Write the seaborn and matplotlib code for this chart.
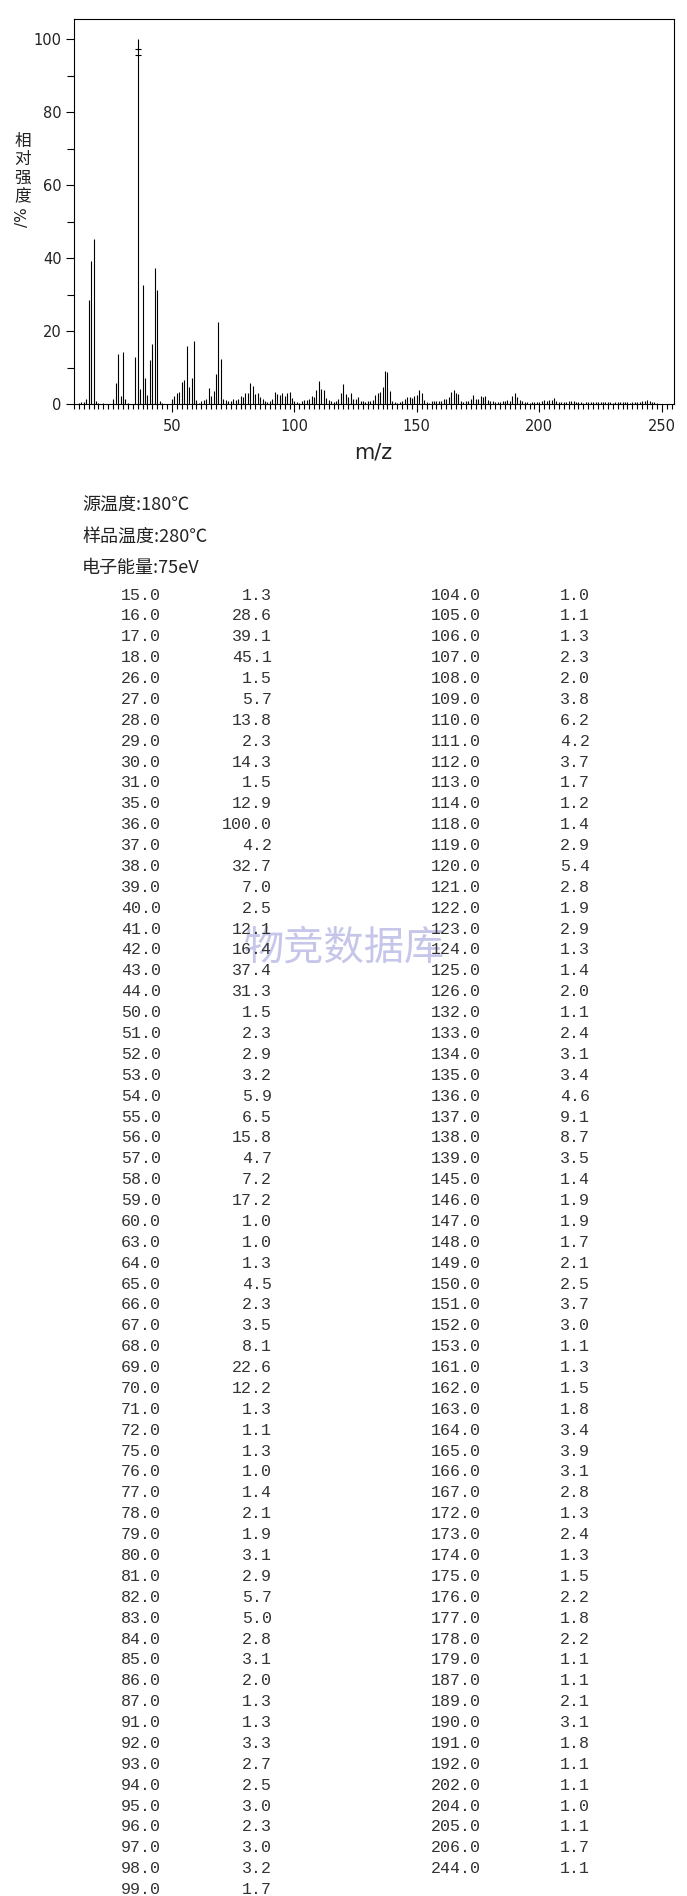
import numpy as np
import pandas as pd
import matplotlib
matplotlib.use("Agg")
import matplotlib.pyplot as plt
import seaborn as sns

# ---------------------------------------------------------------------------
# Data: peaks listed in the table (m/z, relative intensity %)
# ---------------------------------------------------------------------------
table_mz = [15, 16, 17, 18, 26, 27, 28, 29, 30, 31, 35, 36, 37, 38, 39, 40, 41, 42, 43, 44,
            50, 51, 52, 53, 54, 55, 56, 57, 58, 59, 60, 63, 64, 65, 66, 67, 68, 69, 70, 71,
            72, 75, 76, 77, 78, 79, 80, 81, 82, 83, 84, 85, 86, 87, 91, 92, 93, 94, 95, 96,
            97, 98, 99,
            104, 105, 106, 107, 108, 109, 110, 111, 112, 113, 114, 118, 119, 120, 121, 122,
            123, 124, 125, 126, 132, 133, 134, 135, 136, 137, 138, 139, 145, 146, 147, 148,
            149, 150, 151, 152, 153, 161, 162, 163, 164, 165, 166, 167, 172, 173, 174, 175,
            176, 177, 178, 179, 187, 189, 190, 191, 192, 202, 204, 205, 206, 244]
table_int = [1.3, 28.6, 39.1, 45.1, 1.5, 5.7, 13.8, 2.3, 14.3, 1.5, 12.9, 100.0, 4.2, 32.7,
             7.0, 2.5, 12.1, 16.4, 37.4, 31.3,
             1.5, 2.3, 2.9, 3.2, 5.9, 6.5, 15.8, 4.7, 7.2, 17.2, 1.0, 1.0, 1.3, 4.5, 2.3, 3.5,
             8.1, 22.6, 12.2, 1.3,
             1.1, 1.3, 1.0, 1.4, 2.1, 1.9, 3.1, 2.9, 5.7, 5.0, 2.8, 3.1, 2.0, 1.3, 1.3, 3.3,
             2.7, 2.5, 3.0, 2.3,
             3.0, 3.2, 1.7,
             1.0, 1.1, 1.3, 2.3, 2.0, 3.8, 6.2, 4.2, 3.7, 1.7, 1.2, 1.4, 2.9, 5.4, 2.8, 1.9,
             2.9, 1.3, 1.4, 2.0, 1.1, 2.4, 3.1, 3.4, 4.6, 9.1, 8.7, 3.5, 1.4, 1.9, 1.9, 1.7,
             2.1, 2.5, 3.7, 3.0, 1.1, 1.3, 1.5, 1.8, 3.4, 3.9, 3.1, 2.8, 1.3, 2.4, 1.3, 1.5,
             2.2, 1.8, 2.2, 1.1, 1.1, 2.1, 3.1, 1.8, 1.1, 1.1, 1.0, 1.1, 1.7, 1.1]

# weak peaks (< 1 %) only visible on the plot, heights estimated
minor_mz = [12, 13, 14, 19, 20, 22, 32, 45, 46, 61, 62, 73, 74, 88, 89, 90,
            100, 101, 102, 103, 115, 116, 117, 127, 128, 129, 130, 131,
            140, 141, 142, 143, 144, 154, 155, 156, 157, 158, 159, 160,
            168, 169, 170, 171, 180, 181, 182, 183, 184, 185, 186, 188,
            193, 194, 195, 196, 197, 198, 199, 200, 201, 203,
            207, 208, 209, 210, 211, 212, 213, 214, 215, 216, 217, 218, 219, 220,
            221, 222, 223, 224, 225, 226, 227, 228, 229, 230, 231, 232, 233, 234,
            235, 236, 237, 238, 239, 240, 241, 242, 243, 245, 246, 247, 248]
minor_int = [0.4, 0.5, 0.5, 0.7, 0.4, 0.3, 0.4, 0.8, 0.4, 0.4, 0.7, 0.9, 0.8, 0.7, 0.5, 0.7,
             0.7, 0.6, 0.4, 0.9, 0.7, 0.6, 0.7, 0.9, 0.7, 0.6, 0.7, 0.9,
             0.9, 0.5, 0.4, 0.5, 0.9, 0.5, 0.4, 0.9, 0.7, 0.9, 0.9, 0.9,
             0.7, 0.5, 0.7, 0.9, 0.9, 0.7, 0.6, 0.6, 0.6, 0.7, 0.9, 0.8,
             0.8, 0.6, 0.5, 0.4, 0.6, 0.5, 0.6, 0.6, 0.7, 0.8,
             0.7, 0.6, 0.6, 0.6, 0.6, 0.7, 0.7, 0.7, 0.6, 0.5, 0.5, 0.4, 0.5, 0.5,
             0.6, 0.6, 0.6, 0.6, 0.6, 0.6, 0.5, 0.6, 0.5, 0.4, 0.5, 0.6, 0.6, 0.6,
             0.5, 0.5, 0.4, 0.5, 0.5, 0.6, 0.6, 0.7, 0.8, 0.8, 0.6, 0.5, 0.4]

conditions = ["源温度:180℃", "样品温度:280℃", "电子能量:75eV"]
y_label_chars = ["相", "对", "强", "度"]
watermark = "物竞数据库"

peaks = pd.DataFrame({"mz": table_mz + minor_mz, "intensity": table_int + minor_int})

# ---------------------------------------------------------------------------
# Figure
# ---------------------------------------------------------------------------
sns.set_theme(style="ticks")
plt.rcParams["font.family"] = ["DejaVu Sans", "Noto Sans CJK SC"]
CJK = ["Noto Sans CJK SC", "DejaVu Sans"]

W, H = 687, 1896
fig = plt.figure(figsize=(W / 100, H / 100), dpi=100)
fig.patch.set_facecolor("white")


def fx(px):
    return px / W


def fy(py):
    return 1 - py / H


ax = fig.add_axes([fx(74), fy(404), fx(600), (404 - 19) / H])
ax.set_facecolor("white")
ax.vlines(peaks["mz"], 0, peaks["intensity"], color="black", linewidth=0.8)
# small marker near the top of the base peak
ax.plot([36, 36], [97.3, 95.6], ls="none", marker="_", ms=4, mew=0.8, color="black")

ax.set_xlim(10, 255)
ax.set_ylim(0, 105.5)
ax.set_xticks(range(50, 251, 50))
ax.set_xticks(range(10, 255, 2), minor=True)
ax.set_yticks(range(0, 101, 20))
ax.set_yticks(range(10, 100, 20), minor=True)
ax.tick_params(axis="both", which="major", direction="out", length=6, width=0.8,
               color="black", labelsize=10.5, labelcolor="#222222", pad=3)
ax.tick_params(axis="x", which="major", pad=4.5)
ax.tick_params(axis="x", which="minor", direction="out", length=3.8, width=0.8, color="black")
ax.tick_params(axis="y", which="minor", direction="out", length=5, width=0.8, color="black")
for s in ax.spines.values():
    s.set_color("black")
    s.set_linewidth(0.8)
ax.grid(False)

fig.text(fx(373), fy(453), "m/z", ha="center", va="center", fontsize=15, color="#222222")

# stacked y label
for i, ch in enumerate(y_label_chars):
    fig.text(fx(23), fy(141 + i * 18.5), ch, ha="center", va="center", fontsize=12,
             family=CJK, color="#222222")
fig.text(fx(23), fy(217), "/%", ha="center", va="center", fontsize=11, rotation=90,
         color="#222222")

# measurement conditions
for i, line in enumerate(conditions):
    fig.text(fx(82), fy(505 + i * 31.5), line, ha="left", va="center", fontsize=13,
             family=CJK, color="#222222")

# watermark (behind the table)
fig.text(fx(344), fy(948), watermark, ha="center", va="center", fontsize=29,
         family=CJK, color="#c6c6ea", zorder=0)

# peak table in two columns
n_left = 63
col_mz_x = [161, 481]
col_int_x = [272, 590]
for i, (m, v) in enumerate(zip(table_mz, table_int)):
    col = 0 if i < n_left else 1
    row = i if col == 0 else i - n_left
    y = 595 + row * 20.88
    fig.text(fx(col_mz_x[col]), fy(y), f"{m:.1f}", ha="right", va="center", fontsize=12,
             family="Liberation Mono", color="#333333", zorder=2)
    fig.text(fx(col_int_x[col]), fy(y), f"{v:.1f}", ha="right", va="center", fontsize=12,
             family="Liberation Mono", color="#333333", zorder=2)

fig.savefig("out.png", dpi=100, facecolor="white")
